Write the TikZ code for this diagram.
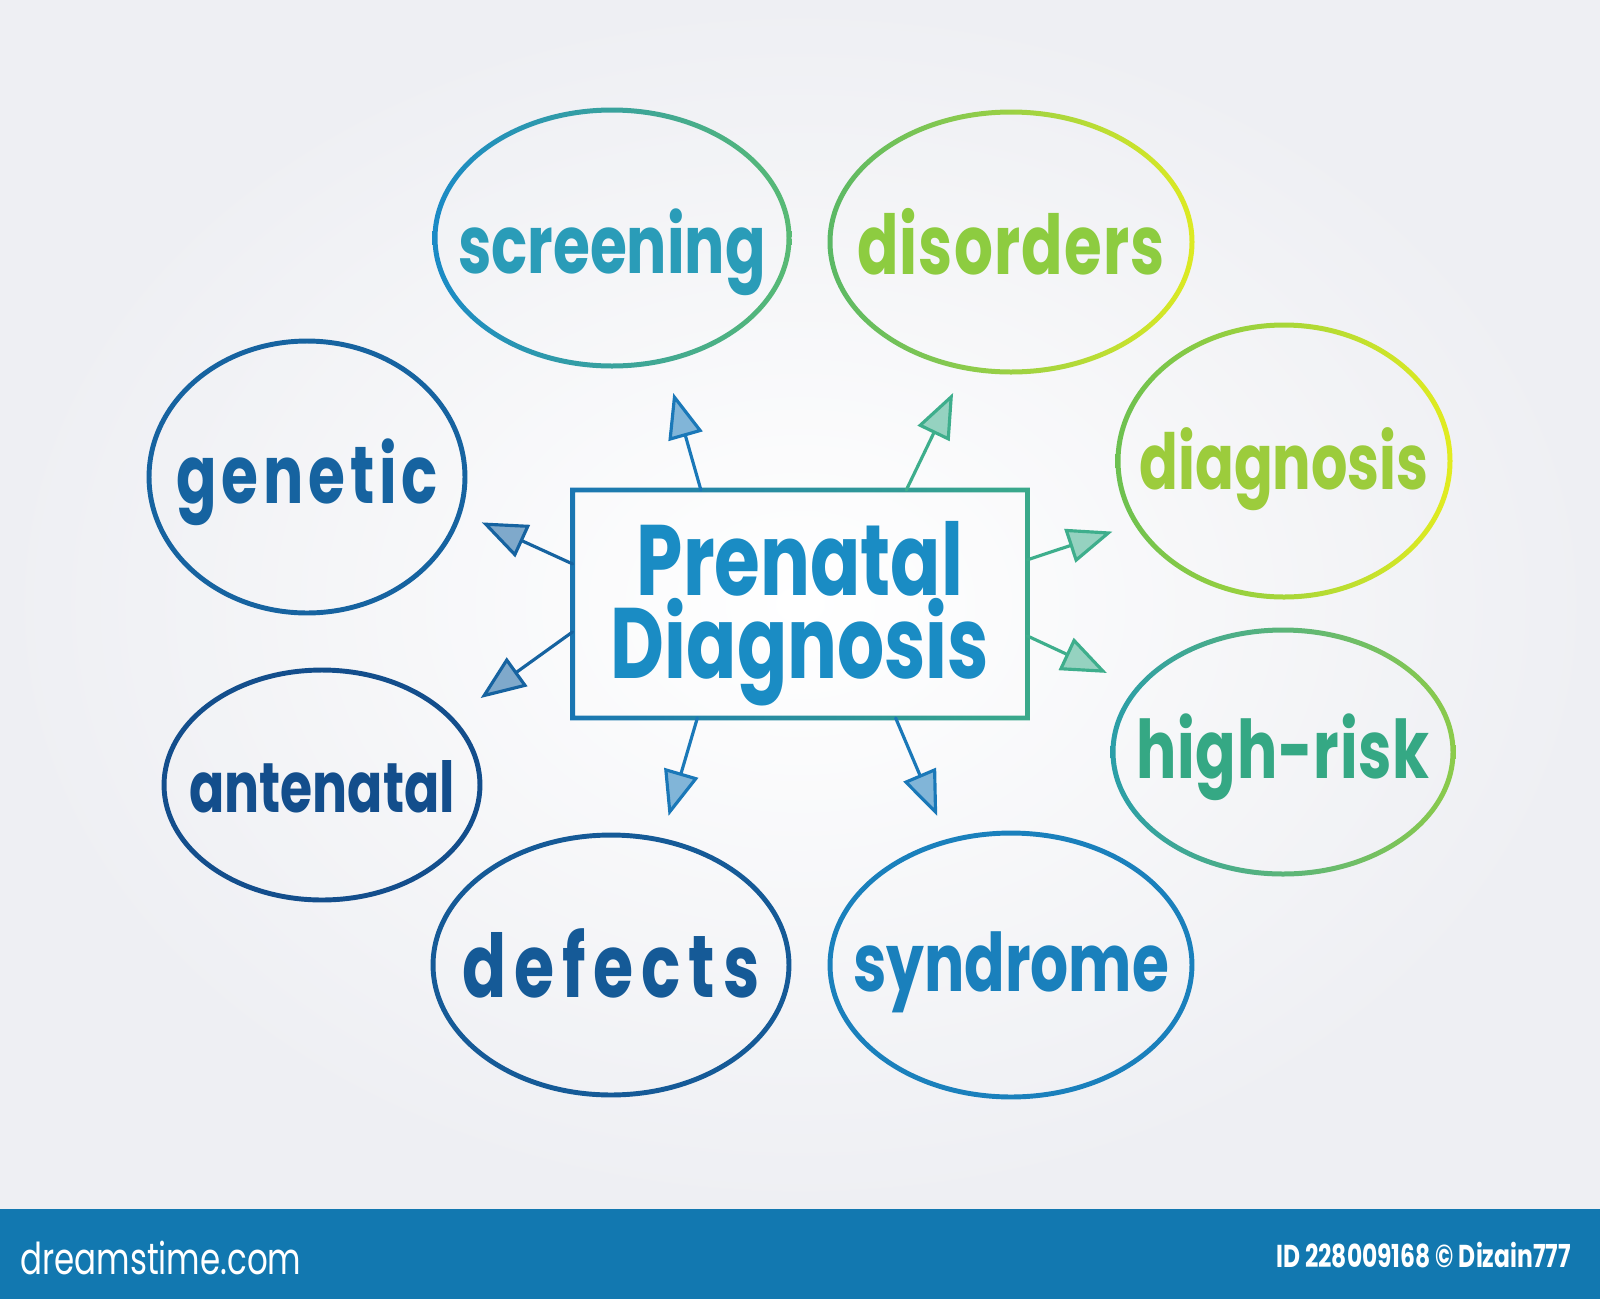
\documentclass[tikz,border=0pt]{standalone}
\usepackage{fontspec}
\newfontfamily\handfont[FakeStretch=0.74]{Poppins}
\usetikzlibrary{arrows.meta, shapes.geometric}

\definecolor{bg_edge}{HTML}{EEEFF3}
\definecolor{banner_blue}{HTML}{1278B0}
\definecolor{c_center}{HTML}{1A8CC4}
\definecolor{c_box_l}{HTML}{1A76B2}
\definecolor{c_box_r}{HTML}{3AA98A}
\definecolor{c_screen}{HTML}{2A9CB8}
\definecolor{c_screen_l}{HTML}{1A8AC6}
\definecolor{c_screen_r}{HTML}{58BA74}
\definecolor{c_disord}{HTML}{8DCC40}
\definecolor{c_disord_l}{HTML}{5AB865}
\definecolor{c_disord_r}{HTML}{DDEA22}
\definecolor{c_diag}{HTML}{9CCC3C}
\definecolor{c_diag_l}{HTML}{6CC050}
\definecolor{c_diag_r}{HTML}{E2EC20}
\definecolor{c_risk}{HTML}{35A884}
\definecolor{c_risk_l}{HTML}{2A9EA8}
\definecolor{c_risk_r}{HTML}{8CCB4A}
\definecolor{c_genetic}{HTML}{1663A0}
\definecolor{c_antenatal}{HTML}{134E8C}
\definecolor{c_defects}{HTML}{155A97}
\definecolor{c_syndrome}{HTML}{1A80BC}
\definecolor{c_arrow_blue}{HTML}{1A78B8}
\definecolor{c_arrow_green}{HTML}{3EAE8C}

\tikzstyle{bubble_style} = [ellipse, draw, line width=2.8pt, inner sep=0pt, outer sep=0pt]
\tikzstyle{center_style} = [rectangle, inner sep=0pt, outer sep=0pt, minimum width=9.1cm, minimum height=4.56cm]
\tikzstyle{title_style} = [inner sep=0pt, align=center, yshift=-0.2cm, text=c_center, font=\handfont\bfseries\fontsize{57}{45}\selectfont]
\tikzset{word_style/.style 2 args={inner sep=0pt, text height=0.55*#1pt, text depth=0pt, yshift=-0.08cm, font=\handfont\bfseries\fontsize{#1}{#1}\selectfont\addfontfeatures{LetterSpace=#2}}}
\tikzset{arrow_style/.style={draw=#1, line width=1.8pt, line cap=round, -{Triangle[length=0.9cm, width=0.7cm, fill=#1!55]}}}

% ring with a left-to-right colour change
\newcommand{\ringshade}[5]{%
  \shade[left color=#4, right color=#5, even odd rule]
    (#1.center) ellipse [x radius=#2+2.5, y radius=#3+2.5]
    (#1.center) ellipse [x radius=#2-2.5, y radius=#3-2.5];}

\begin{document}
\begin{tikzpicture}[x=0.02cm, y=-0.02cm]
	
	  \useasboundingbox (0,0) rectangle (1600,1299);
	  \fill[inner color=white, outer color=bg_edge] (0,0) rectangle (1600,1209);
	  \fill[banner_blue] (0,1209) rectangle (1600,1299);
	  
	  % 中心
	  \node[center_style, label={[title_style]center:Prenatal\\Diagnosis}] (center) at (800,604) {};
	  \shade[left color=c_box_l, right color=c_box_r, even odd rule]
	    ([xshift=-1.4pt, yshift=1.4pt]center.north west) rectangle ([xshift=1.4pt, yshift=-1.4pt]center.south east)
	    ([xshift=1.4pt, yshift=-1.4pt]center.north west) rectangle ([xshift=-1.4pt, yshift=1.4pt]center.south east);
	  
	  % 上面
	  \node[bubble_style, draw=none, minimum width=7.08cm, minimum height=5.12cm, label={[word_style={46}{0}, yshift=-0.18cm, text=c_screen]center:screening}] (screening) at (612,238) {};
	  \ringshade{screening}{177}{128}{c_screen_l}{c_screen_r}
	  \node[bubble_style, draw=none, minimum width=7.24cm, minimum height=5.2cm, label={[word_style={47}{1.5}, yshift=-0.12cm, text=c_disord]center:disorders}] (disorders) at (1011,242) {};
	  \ringshade{disorders}{181}{130}{c_disord_l}{c_disord_r}
	  
	  % 左边
	  \node[bubble_style, draw=c_genetic, minimum width=6.32cm, minimum height=5.44cm, label={[word_style={46}{6}, text=c_genetic]center:genetic}] (genetic) at (307,477) {};
	  \node[bubble_style, draw=c_antenatal, minimum width=6.32cm, minimum height=4.6cm, label={[word_style={40}{0}, yshift=-0.08cm, text=c_antenatal]center:antenatal}] (antenatal) at (322,785) {};
	  
	  % 右边
	  \node[bubble_style, draw=none, minimum width=6.64cm, minimum height=5.44cm, label={[word_style={44}{0}, yshift=-0.06cm, text=c_diag]center:diagnosis}] (diagnosis) at (1284,461) {};
	  \ringshade{diagnosis}{166}{136}{c_diag_l}{c_diag_r}
	  \node[bubble_style, draw=none, minimum width=6.8cm, minimum height=4.88cm, label={[word_style={46}{1}, text=c_risk]center:high-risk}] (highrisk) at (1283,752) {};
	  \ringshade{highrisk}{170}{122}{c_risk_l}{c_risk_r}
	  
	  % 下面
	  \node[bubble_style, draw=c_defects, minimum width=7.12cm, minimum height=5.2cm, label={[word_style={50}{9}, yshift=-0.08cm, text=c_defects]center:defects}] (defects) at (611,965) {};
	  \node[bubble_style, draw=c_syndrome, minimum width=7.24cm, minimum height=5.28cm, label={[word_style={46}{0}, text=c_syndrome]center:syndrome}] (syndrome) at (1011,965) {};
	  
	  % 箭头
	  \draw[arrow_style=c_arrow_blue, shorten >=0.68cm] (center.131) -- (screening.-67);
	  \draw[arrow_style=c_arrow_green, shorten >=0.56cm] (center.47) -- (disorders.250);
	  \draw[arrow_style=c_genetic, shorten >=0.49cm] (center.170) -- (genetic.-13);
	  \draw[arrow_style=c_genetic, shorten >=0.72cm] (center.187) -- (antenatal.27);
	  \draw[arrow_style=c_arrow_green, shorten >=0.51cm] (center.11) -- (diagnosis.203);
	  \draw[arrow_style=c_arrow_green, shorten >=0.7cm] (center.-8.5) -- (highrisk.156);
	  \draw[arrow_style=c_arrow_blue, shorten >=0.51cm] (center.228) -- (defects.68);
	  \draw[arrow_style=c_arrow_blue, shorten >=0.55cm] (center.310) -- (syndrome.117);
	  
	  % 底栏
	  \node[anchor=west, text=white, inner sep=0pt, font=\handfont\fontsize{25}{25}\selectfont] (site) at (20,1258) {dreamstime.com};
	  \node[anchor=east, text=white, inner sep=0pt, font=\handfont\bfseries\fontsize{18}{18}\selectfont] (imgid) at (1571,1255) {ID 228009168 © Dizain777};
	  
	  \end{tikzpicture}
\end{document}
